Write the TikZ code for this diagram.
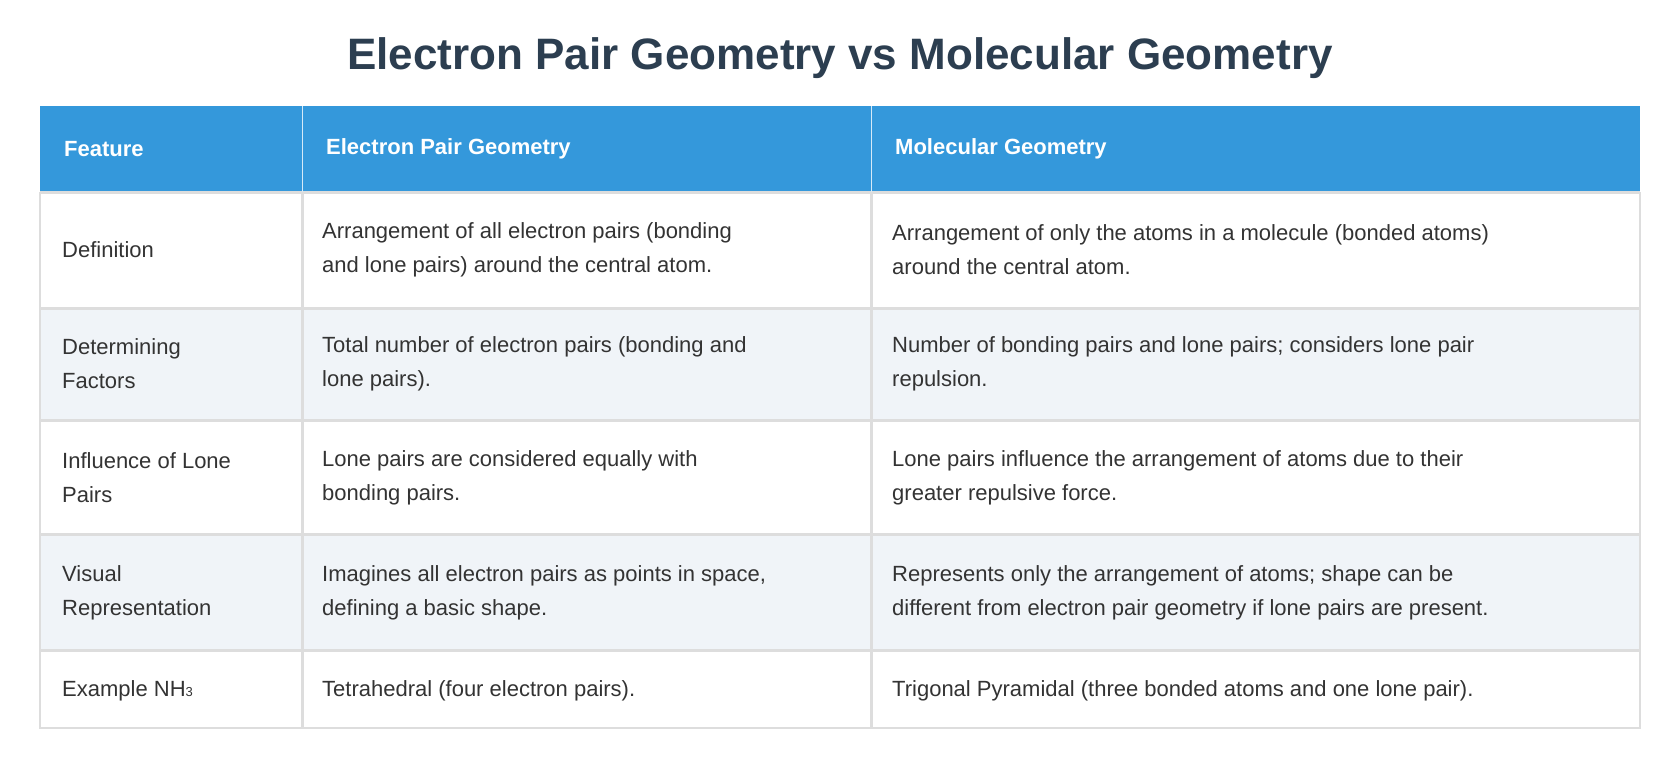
\documentclass[tikz,border=0pt]{standalone}
\usepackage{fontspec}
\setmainfont{Liberation Sans}
\definecolor{titlec}{HTML}{2C3E50}
\definecolor{headc}{HTML}{3498DB}
\definecolor{altc}{HTML}{F0F4F8}
\definecolor{linec}{HTML}{DDDDDD}
\definecolor{txtc}{HTML}{333333}
\tikzset{cell/.style={anchor=west,align=left,inner sep=0pt,text=txtc,font=\fontsize{22}{34}\selectfont},
hcell/.style={anchor=west,inner sep=0pt,text=white,font=\fontsize{22}{26}\selectfont\bfseries}}
\begin{document}
\begin{tikzpicture}[x=1pt,y=-1pt]
\useasboundingbox[fill=white] (0,0) rectangle (1680,772);
\node[text=titlec,font=\fontsize{44}{50}\selectfont\bfseries] (title) at (840,58) {Electron Pair Geometry vs Molecular Geometry};
\fill[headc] (40,106) rectangle (1640,192);
\fill[altc] (40,308) rectangle (1640,420);
\fill[altc] (40,534) rectangle (1640,650);
\foreach \y in {192,308,420,534,650}{\draw[linec,line width=3pt] (40,\y) -- (1640,\y);}
\draw[linec,line width=1.5pt] (40,192) -- (40,728) -- (1640,728) -- (1640,192);
\draw[linec,line width=3pt] (302,192) -- (302,728);
\draw[linec,line width=3pt] (871,192) -- (871,728);
\draw[white!80!headc,line width=1pt] (302,106) -- (302,192) (871,106) -- (871,192);
\node[hcell] (h1) at (64,149) {Feature};
\node[hcell] (h2) at (326,149) {Electron Pair Geometry};
\node[hcell] (h3) at (895,149) {Molecular Geometry};
% row 1
\node[cell] (a1) at (62,250) {Definition};
\node[cell] (b1) at (322,250) {Arrangement of all electron pairs (bonding\\and lone pairs) around the central atom.};
\node[cell] (c1) at (892,250) {Arrangement of only the atoms in a molecule (bonded atoms)\\around the central atom.};
\node[cell] (a2) at (62,364) {Determining\\Factors};
\node[cell] (b2) at (322,364) {Total number of electron pairs (bonding and\\lone pairs).};
\node[cell] (c2) at (892,364) {Number of bonding pairs and lone pairs; considers lone pair\\repulsion.};
\node[cell] (a3) at (62,478) {Influence of Lone\\Pairs};
\node[cell] (b3) at (322,478) {Lone pairs are considered equally with\\bonding pairs.};
\node[cell] (c3) at (892,478) {Lone pairs influence the arrangement of atoms due to their\\greater repulsive force.};
\node[cell] (a4) at (62,593) {Visual\\Representation};
\node[cell] (b4) at (322,593) {Imagines all electron pairs as points in space,\\defining a basic shape.};
\node[cell] (c4) at (892,593) {Represents only the arrangement of atoms; shape can be\\different from electron pair geometry if lone pairs are present.};
\node[cell] (a5) at (62,691) {Example NH{\fontsize{13}{13}\selectfont 3}};
\node[cell] (b5) at (322,691) {Tetrahedral (four electron pairs).};
\node[cell] (c5) at (892,691) {Trigonal Pyramidal (three bonded atoms and one lone pair).};
\end{tikzpicture}
\end{document}
